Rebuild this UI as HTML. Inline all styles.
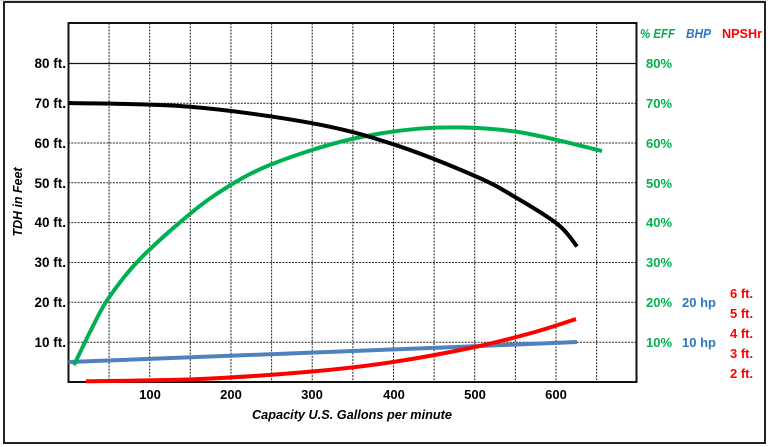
<!DOCTYPE html>
<html><head><meta charset="utf-8"><style>
html,body{margin:0;padding:0;background:#fff;}
svg{display:block;}
text{font-family:"Liberation Sans",Arial,sans-serif;font-weight:bold;}
</style></head><body>
<svg width="768" height="447" viewBox="0 0 768 447" xmlns="http://www.w3.org/2000/svg">
<rect x="0" y="0" width="768" height="447" fill="#fff"/>
<line x1="0" y1="0.5" x2="768" y2="0.5" stroke="#ddd" stroke-width="1"/>
<rect x="4" y="2" width="761" height="441" fill="none" stroke="#222" stroke-width="2"/>
<!-- grid -->
<g stroke="#222" stroke-width="1" stroke-dasharray="2,1.2">
<line x1="109.1" y1="23" x2="109.1" y2="382"/>
<line x1="149.7" y1="23" x2="149.7" y2="382"/>
<line x1="190.3" y1="23" x2="190.3" y2="382"/>
<line x1="231" y1="23" x2="231" y2="382"/>
<line x1="271.6" y1="23" x2="271.6" y2="382"/>
<line x1="312.2" y1="23" x2="312.2" y2="382"/>
<line x1="352.9" y1="23" x2="352.9" y2="382"/>
<line x1="393.5" y1="23" x2="393.5" y2="382"/>
<line x1="434.1" y1="23" x2="434.1" y2="382"/>
<line x1="474.7" y1="23" x2="474.7" y2="382"/>
<line x1="515.4" y1="23" x2="515.4" y2="382"/>
<line x1="556" y1="23" x2="556" y2="382"/>
<line x1="596.6" y1="23" x2="596.6" y2="382"/>
<line x1="68" y1="103.3" x2="637" y2="103.3"/>
<line x1="68" y1="143" x2="637" y2="143"/>
<line x1="68" y1="182.8" x2="637" y2="182.8"/>
<line x1="68" y1="222.6" x2="637" y2="222.6"/>
<line x1="68" y1="262.5" x2="637" y2="262.5"/>
<line x1="68" y1="302.3" x2="637" y2="302.3"/>
<line x1="68" y1="342.3" x2="637" y2="342.3"/>
</g>
<line x1="68" y1="63.5" x2="637" y2="63.5" stroke="#111" stroke-width="1.2"/>
<rect x="68.5" y="23" width="568" height="359" fill="none" stroke="#111" stroke-width="2"/>
<!-- curves -->
<g fill="none" stroke-width="4" stroke-linecap="butt" stroke-linejoin="round">
<path stroke="#4f81bd" d="M68.5,362 C200,357 400,349.5 577,342"/>
<path stroke="#ff0000" d="M86,381.3 C105,380.92 162.33,380.63 200,379 C237.67,377.37 279.83,374.33 312,371.5 C344.17,368.67 365.83,366.08 393,362 C420.17,357.92 451.33,352 475,347 C498.67,342 518.17,336.67 535,332 C551.83,327.33 569.17,321.17 576,319"/>
<path stroke="#00b050" d="M74,365 C77.17,358.5 87.28,337.08 93,326 C98.72,314.92 101.02,309.08 108.3,298.5 C115.58,287.92 124.75,275.2 136.7,262.5 C148.65,249.8 166.12,234.1 180,222.3 C193.88,210.5 204.83,201.33 220,191.7 C235.17,182.07 249,173.28 271,164.5 C293,155.72 324.83,145.12 352,139 C379.17,132.88 406.83,129.05 434,127.8 C461.17,126.55 487,127.63 515,131.5 C543,135.37 587.5,147.75 602,151"/>
<path stroke="#000" d="M68.5,103 C88.75,103.63 149.42,103.43 190,106.8 C230.58,110.17 278.17,116.97 312,123.2 C345.83,129.43 365.83,135.4 393,144.2 C420.17,153 454.67,167.2 475,176 C495.33,184.8 501.17,188.92 515,197 C528.83,205.08 547.67,216.25 558,224.5 C568.33,232.75 573.83,242.83 577,246.5"/>
</g>
<!-- left labels -->
<g font-size="13.5" fill="#000" text-anchor="end">
<text x="66" y="68">80 ft.</text>
<text x="66" y="108">70 ft.</text>
<text x="66" y="148">60 ft.</text>
<text x="66" y="188">50 ft.</text>
<text x="66" y="227">40 ft.</text>
<text x="66" y="267">30 ft.</text>
<text x="66" y="307">20 ft.</text>
<text x="66" y="347">10 ft.</text>
</g>
<text transform="translate(22,202) rotate(-90)" font-size="12.5" font-style="italic" text-anchor="middle" textLength="69" lengthAdjust="spacingAndGlyphs">TDH in Feet</text>
<!-- x labels -->
<g font-size="13" fill="#000" text-anchor="middle">
<text x="150" y="399">100</text>
<text x="231" y="399">200</text>
<text x="312" y="399">300</text>
<text x="394" y="399">400</text>
<text x="475" y="399">500</text>
<text x="556" y="399">600</text>
</g>
<text x="252" y="419" font-size="13" font-style="italic" textLength="200" lengthAdjust="spacingAndGlyphs">Capacity U.S. Gallons per minute</text>
<!-- right labels -->
<text x="640" y="38" font-size="13" font-style="italic" fill="#00b050" textLength="35" lengthAdjust="spacingAndGlyphs">% EFF</text>
<text x="686" y="38" font-size="13" font-style="italic" fill="#2e75c0" textLength="25" lengthAdjust="spacingAndGlyphs">BHP</text>
<text x="722" y="38" font-size="13" fill="#ff0000" textLength="40" lengthAdjust="spacingAndGlyphs">NPSHr</text>
<g font-size="13" fill="#00b050">
<text x="646" y="68">80%</text>
<text x="646" y="108">70%</text>
<text x="646" y="148">60%</text>
<text x="646" y="188">50%</text>
<text x="646" y="227">40%</text>
<text x="646" y="267">30%</text>
<text x="646" y="307">20%</text>
<text x="646" y="347">10%</text>
</g>
<g font-size="13" fill="#2e75c0">
<text x="682" y="307">20 hp</text>
<text x="682" y="347">10 hp</text>
</g>
<g font-size="13" fill="#ff0000">
<text x="730" y="298">6 ft.</text>
<text x="730" y="318">5 ft.</text>
<text x="730" y="338">4 ft.</text>
<text x="730" y="358">3 ft.</text>
<text x="730" y="378">2 ft.</text>
</g>
</svg>
</body></html>
